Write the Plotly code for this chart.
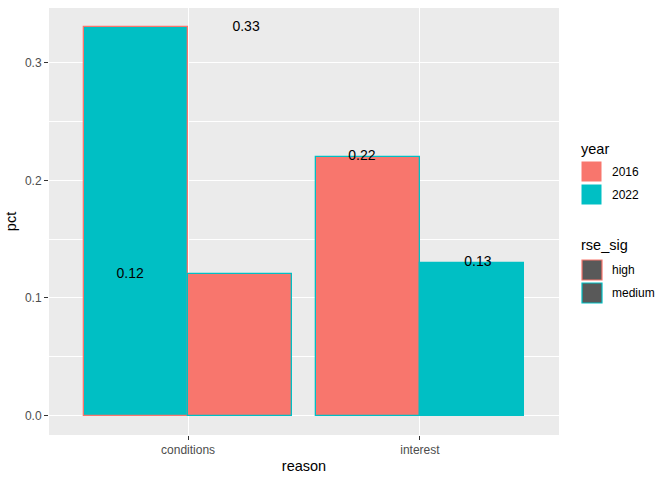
import plotly.graph_objects as go

# ---- data ----
reasons = ["conditions", "interest"]
bar_reason = ["conditions", "conditions", "interest", "interest"]
bar_slot = [0, 1, 0, 1]
bar_year = ["2022", "2016", "2016", "2022"]
bar_rse = ["high", "medium", "medium", "medium"]
bar_pct = [0.33, 0.12, 0.22, 0.13]

label_reason = ["conditions", "conditions", "interest", "interest"]
label_slot = [1, 0, 0, 1]
label_pct = [0.33, 0.12, 0.22, 0.13]

years = ["2016", "2022"]
rse_levels = ["high", "medium"]
y_ticks = [0.0, 0.1, 0.2, 0.3]

# ---- styling ----
year_fill = {"2016": "#F8766D", "2022": "#00BFC4"}
rse_line = {"high": "#F8766D", "medium": "#00BFC4"}
FONT = "Liberation Sans, Arial, sans-serif"
W, H = 672, 480
ML, MR, MT, MB = 49, 113, 8, 45
PW, PH = W - ML - MR, H - MT - MB

bar_w = 0.45
lab_dodge = 0.5

fig = go.Figure()
for r, s, yr, rs, v in zip(bar_reason, bar_slot, bar_year, bar_rse, bar_pct):
    xc = reasons.index(r) + 1 + (s - 0.5) * bar_w
    fig.add_trace(go.Bar(
        x=[xc], y=[v], width=[bar_w],
        marker=dict(color=year_fill[yr], opacity=1, line=dict(color=rse_line[rs], width=1.3)),
        showlegend=False, hoverinfo="skip",
    ))

lx = [reasons.index(r) + 1 + (s - 0.5) * lab_dodge for r, s in zip(label_reason, label_slot)]
fig.add_trace(go.Scatter(
    x=lx, y=label_pct, mode="text",
    text=[f"{v:.2f}" for v in label_pct], textposition="middle center",
    textfont=dict(family=FONT, size=14, color="black"),
    showlegend=False, hoverinfo="skip",
))

# ---- manual legend (ggplot style) ----
def px2paper(px, py):
    return (px - ML) / PW, (H - MB - py) / PH

shapes = []
annotations = []

def add_title(text, px, py):
    x, y = px2paper(px, py)
    annotations.append(dict(x=x, y=y, xref="paper", yref="paper", text=text, showarrow=False,
                            xanchor="left", yanchor="middle",
                            font=dict(family=FONT, size=14.5, color="black")))

def add_key(px0, py0, size, fill, line, label):
    x0, y1 = px2paper(px0, py0)
    x1, y0 = px2paper(px0 + size, py0 + size)
    shapes.append(dict(type="rect", xref="paper", yref="paper", x0=x0, x1=x1, y0=y0, y1=y1,
                       fillcolor=fill, line=dict(color=line, width=1.2 if line != "white" else 1)))
    lx_, ly_ = px2paper(px0 + size + 8, py0 + size / 2)
    annotations.append(dict(x=lx_, y=ly_, xref="paper", yref="paper", text=label, showarrow=False,
                            xanchor="left", yanchor="middle",
                            font=dict(family=FONT, size=12, color="black")))

add_title("year", 579, 149)
for i, yr in enumerate(years):
    add_key(581, 161 + i * 23, 21, year_fill[yr], "white", yr)

add_title("rse_sig", 579, 245)
for i, rs in enumerate(rse_levels):
    add_key(582, 260 + i * 23, 20, "#595959", rse_line[rs], rs)

fig.update_layout(
    width=W, height=H,
    margin=dict(l=ML, r=MR, t=MT, b=MB),
    paper_bgcolor="white", plot_bgcolor="#EBEBEB",
    barmode="overlay", bargap=0,
    showlegend=False,
    font=dict(family=FONT),
    shapes=shapes, annotations=annotations,
    xaxis=dict(
        range=[0.4, 2.6], tickvals=[1, 2], ticktext=reasons, automargin=False,
        showgrid=True, gridcolor="white", gridwidth=1.1, zeroline=False,
        ticks="outside", ticklen=4, tickcolor="#333333", tickwidth=1,
        tickfont=dict(family=FONT, size=12, color="#4D4D4D"),
        title=dict(text="reason", font=dict(family=FONT, size=14.5, color="black"), standoff=4),
    ),
    yaxis=dict(
        range=[-0.0165, 0.3465], tickvals=y_ticks, ticktext=[f"{t:.1f}" for t in y_ticks],
        automargin=False,
        showgrid=True, gridcolor="white", gridwidth=1.1, zeroline=False,
        ticks="outside", ticklen=4, tickcolor="#333333", tickwidth=1,
        tickfont=dict(family=FONT, size=12, color="#4D4D4D"),
        title=dict(text="pct", font=dict(family=FONT, size=14.5, color="black"), standoff=4),
        minor=dict(tickvals=[0.05, 0.15, 0.25], showgrid=True, gridcolor="white", gridwidth=0.55, ticks=""),
    ),
)

fig.write_html("out.html")
